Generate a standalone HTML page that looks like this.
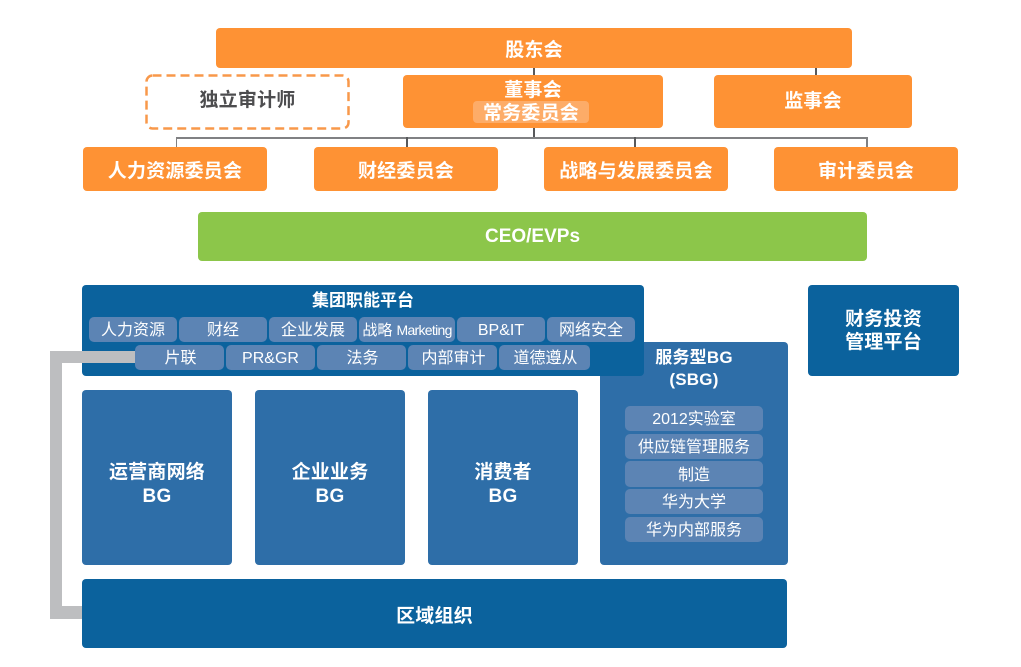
<!DOCTYPE html>
<html lang="zh">
<head>
<meta charset="utf-8">
<style>
html,body{margin:0;padding:0;background:#fff;}
#p{position:relative;width:1021px;height:667px;overflow:hidden;background:#fff;font-family:"Liberation Sans","Noto Sans CJK SC",sans-serif;}
.b{position:absolute;display:flex;align-items:center;justify-content:center;text-align:center;border-radius:4px;color:#fff;font-weight:700;font-size:19px;letter-spacing:.2px;line-height:23px;box-sizing:border-box;white-space:nowrap;}
.o{background:#fe9234;}
.d{background:#0b629d;}
.m{background:#2e6ea8;}
.s{background:#5c84b4;font-weight:400;font-size:16px;border-radius:5px;letter-spacing:0;color:#fff;padding-top:2px;}
.l{position:absolute;background:#58595b;}
.h{position:absolute;background:#808183;}
.g{position:absolute;background:#bdbec0;}
</style>
</head>
<body>
<div id="p">
<div class="l" style="left:533px;top:68px;width:2px;height:7px"></div>
<div class="l" style="left:815px;top:68px;width:2px;height:7px"></div>
<div class="l" style="left:533px;top:128px;width:2px;height:10px"></div>
<div class="h" style="left:176px;top:137px;width:692px;height:2px"></div>
<div class="h" style="left:176px;top:137px;width:1px;height:10px"></div>
<div class="l" style="left:406px;top:137px;width:2px;height:10px"></div>
<div class="l" style="left:634px;top:137px;width:2px;height:10px"></div>
<div class="h" style="left:866px;top:137px;width:2px;height:10px"></div>

<div class="b o" style="left:216px;top:28px;width:636px;height:40px;padding-top:5px">股东会</div>
<svg style="position:absolute;left:144px;top:73px" width="207" height="58"><rect x="2.5" y="2.5" width="202" height="53" rx="6" fill="#fff" stroke="#f8984a" stroke-width="2.5" stroke-dasharray="9 5"/></svg>
<div class="b" style="left:146px;top:75px;width:203px;height:54px;color:#4d4d4f;padding-bottom:3px">独立审计师</div>
<div class="b o" style="left:403px;top:75px;width:260px;height:53px;align-items:flex-start;padding-top:4px">董事会</div>
<div class="b" style="left:473px;top:101px;width:116px;height:22px;background:#fdac68;padding-top:3px">常务委员会</div>
<div class="b o" style="left:714px;top:75px;width:198px;height:53px">监事会</div>

<div class="b o" style="left:83px;top:147px;width:184px;height:44px;padding-top:5px">人力资源委员会</div>
<div class="b o" style="left:314px;top:147px;width:184px;height:44px;padding-top:5px">财经委员会</div>
<div class="b o" style="left:544px;top:147px;width:184px;height:44px;padding-top:5px">战略与发展委员会</div>
<div class="b o" style="left:774px;top:147px;width:184px;height:44px;padding-top:5px">审计委员会</div>

<div class="b" style="left:198px;top:212px;width:669px;height:49px;background:#8cc64a;letter-spacing:0">CEO/EVPs</div>

<div class="b m" style="left:600px;top:342px;width:188px;height:223px;align-items:flex-start;padding-top:5px;font-size:17px;line-height:22px">服务型BG<br>(SBG)</div>
<div class="b d" style="left:82px;top:285px;width:562px;height:91px;align-items:flex-start;padding-top:4px;font-size:17px;letter-spacing:0">集团职能平台</div>

<div class="g" style="left:50px;top:351px;width:85px;height:12px"></div>
<div class="g" style="left:50px;top:351px;width:12px;height:268px"></div>
<div class="g" style="left:50px;top:606px;width:32px;height:13px"></div>

<div class="b s" style="left:89px;top:317px;width:88px;height:25px">人力资源</div>
<div class="b s" style="left:179px;top:317px;width:88px;height:25px">财经</div>
<div class="b s" style="left:269px;top:317px;width:88px;height:25px">企业发展</div>
<div class="b s" style="left:359px;top:317px;width:96px;height:25px"><span style="font-size:15px">战略&nbsp;</span><span style="font-size:14px;letter-spacing:-.7px">Marketing</span></div>
<div class="b s" style="left:457px;top:317px;width:88px;height:25px">BP&amp;IT</div>
<div class="b s" style="left:547px;top:317px;width:88px;height:25px">网络安全</div>

<div class="b s" style="left:135px;top:345px;width:89px;height:25px;padding-left:2px">片联</div>
<div class="b s" style="left:226px;top:345px;width:89px;height:25px">PR&amp;GR</div>
<div class="b s" style="left:317px;top:345px;width:89px;height:25px;padding-left:2px">法务</div>
<div class="b s" style="left:408px;top:345px;width:89px;height:25px;padding-left:2px">内部审计</div>
<div class="b s" style="left:499px;top:345px;width:91px;height:25px;padding-left:2px">道德遵从</div>

<div class="b m" style="left:82px;top:390px;width:150px;height:175px;align-items:flex-start;padding-top:71px;line-height:24px">运营商网络<br>BG</div>
<div class="b m" style="left:255px;top:390px;width:150px;height:175px;align-items:flex-start;padding-top:71px;line-height:24px">企业业务<br>BG</div>
<div class="b m" style="left:428px;top:390px;width:150px;height:175px;align-items:flex-start;padding-top:71px;line-height:24px">消费者<br>BG</div>

<div class="b s" style="left:625px;top:406px;width:138px;height:25px">2012实验室</div>
<div class="b s" style="left:625px;top:434px;width:138px;height:25px">供应链管理服务</div>
<div class="b s" style="left:625px;top:461px;width:138px;height:26px">制造</div>
<div class="b s" style="left:625px;top:489px;width:138px;height:25px">华为大学</div>
<div class="b s" style="left:625px;top:517px;width:138px;height:25px">华为内部服务</div>

<div class="b d" style="left:82px;top:579px;width:705px;height:69px;padding-top:5px">区域组织</div>
<div class="b d" style="left:808px;top:285px;width:151px;height:91px;padding-top:1px">财务投资<br>管理平台</div>
</div>
</body>
</html>
